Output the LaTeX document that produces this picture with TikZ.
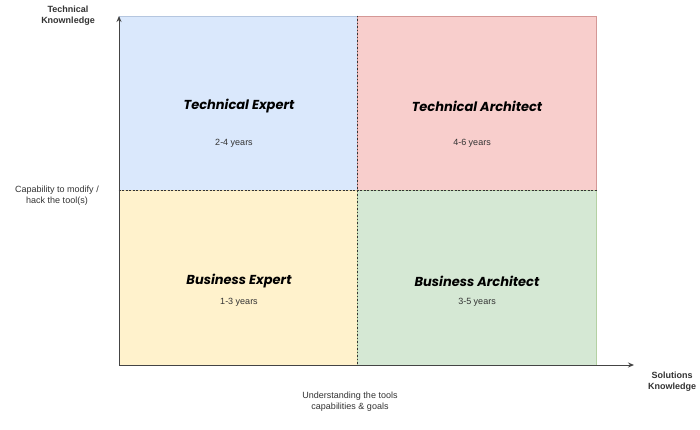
\documentclass[tikz,border=0pt]{standalone}
\usepackage{fontspec}
\setmainfont{Liberation Sans}
\newfontfamily\titlefont{Poppins}
\usetikzlibrary{arrows.meta}
\definecolor{bluefill}{HTML}{DAE8FC}\definecolor{bluestroke}{HTML}{6C8EBF}
\definecolor{redfill}{HTML}{F8CECC}\definecolor{redstroke}{HTML}{B85450}
\definecolor{yelfill}{HTML}{FFF2CC}\definecolor{yelstroke}{HTML}{D6B656}
\definecolor{grnfill}{HTML}{D5E8D4}\definecolor{grnstroke}{HTML}{82B366}
\definecolor{axisgray}{HTML}{444444}
\definecolor{txtgray}{HTML}{333333}
\tikzset{
  quad/.style={rectangle, minimum width=239pt, minimum height=174.5pt, inner sep=0pt, line width=0.6pt},
  ttl/.style={font=\titlefont\bfseries\itshape\fontsize{13}{15}\selectfont, text=black},
  yrs/.style={font=\fontsize{9}{11}\selectfont, text=txtgray},
  axlabel/.style={font=\fontsize{9}{11}\selectfont, text=txtgray, align=center},
  axbold/.style={font=\bfseries\fontsize{9}{11}\selectfont, text=txtgray, align=center},
  axisline/.style={draw=axisgray, line width=1pt, -{Stealth[length=6pt,width=5pt]}},
  divider/.style={draw=black!80, line width=0.7pt}
}
\begin{document}
\begin{tikzpicture}[x=1pt,y=-1pt]
\useasboundingbox[fill=white] (0,0) rectangle (700,430);
% quadrants
\node[quad, fill=bluefill, draw=bluestroke!50] (te) at (238.5,103.25) {};
\node[quad, fill=redfill, draw=redstroke!60] (ta) at (477,103.25) {};
\node[quad, fill=yelfill, draw=yelstroke!50] (be) at (238.5,277.75) {};
\node[quad, fill=grnfill, draw=grnstroke!60] (ba) at (477,277.75) {};
% dividers
\draw[divider, dash pattern=on 2pt off 1.5pt] (te.south west) -- (ta.south east);
\draw[divider, dash pattern=on 1.5pt off 2pt] (ta.north west) -- (ba.south west);
% axes
\coordinate (origin) at (119,365);
\coordinate (ytip) at (119,16);
\coordinate (xtip) at (634,365);
\draw[axisline] (origin) -- (ytip);
\draw[axisline] (origin) -- (xtip);
% titles
\node[ttl] (t1) at (239,106) {Technical Expert};
\node[yrs] (y1) at (234,143) {2-4 years};
\node[ttl] (t2) at (477,106) {Technical Architect};
\node[yrs] (y2) at (472,143) {4-6 years};
\node[ttl] (t3) at (239,281) {Business Expert};
\node[yrs] (y3) at (239,302) {1-3 years};
\node[ttl] (t4) at (477,281) {Business Architect};
\node[yrs] (y4) at (477,302) {3-5 years};
% axis labels
\node[axbold] (ylab) at (68,16) {Technical\\Knownledge};
\node[axlabel] (mlab) at (57,196) {Capability to modify /\\hack the tool(s)};
\node[axlabel] (xlab) at (350,402) {Understanding the tools\\capabilities \& goals};
\node[axbold] (slab) at (672,382) {Solutions\\Knowledge};
\end{tikzpicture}
\end{document}
